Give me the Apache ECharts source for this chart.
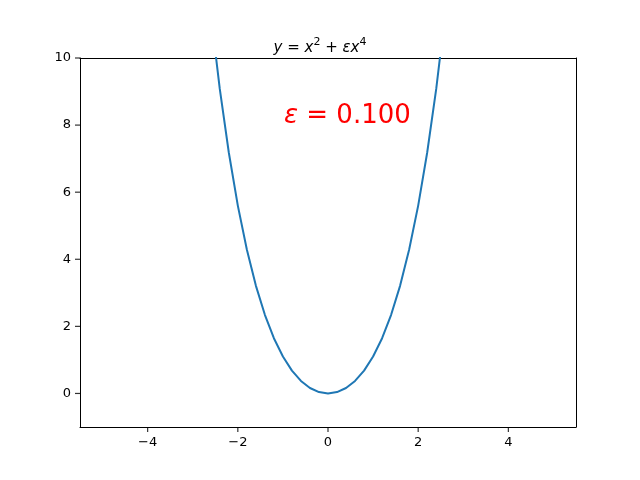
<!DOCTYPE html>
<html>
<head>
<meta charset="utf-8">
<script src="https://cdn.jsdelivr.net/npm/echarts@6/dist/echarts.min.js"></script>
<style>
  html, body { margin: 0; padding: 0; background: #fff; }
  #chart { width: 640px; height: 480px; }
</style>
</head>
<body>
<div id="chart"></div>
<script>
// curve samples (step 0.2)
var xs = [-3.0, -2.8, -2.6, -2.4, -2.2, -2.0, -1.8, -1.6, -1.4, -1.2, -1.0, -0.8, -0.6, -0.4, -0.2,
          0.0, 0.2, 0.4, 0.6, 0.8, 1.0, 1.2, 1.4, 1.6, 1.8, 2.0, 2.2, 2.4, 2.6, 2.8, 3.0];
var ys = [17.1, 13.987, 11.33, 9.078, 7.183, 5.6, 4.29, 3.215, 2.344, 1.647, 1.1, 0.681, 0.373, 0.163, 0.04,
          0.0, 0.04, 0.163, 0.373, 0.681, 1.1, 1.647, 2.344, 3.215, 4.29, 5.6, 7.183, 9.078, 11.33, 13.987, 17.1];
var xTicks = [-4, -2, 0, 2, 4];
var yTicks = [0, 2, 4, 6, 8, 10];
var xMin = -5.5, xMax = 5.5, yMin = -1, yMax = 10;
var epsLabel = '0.100';

var points = xs.map(function (x, i) { return [x, ys[i]]; });
// tick marks sit on the bottom / left edges of the frame
var xTickMarks = xTicks.map(function (v) { return [v, yMin]; });
var yTickMarks = yTicks.map(function (v) { return [xMin, v]; });

var myChart = echarts.init(document.getElementById('chart'));
var font = 'DejaVu Sans';
var minus = function (v) { return String(v).replace('-', '\u2212'); };
var frame = { color: '#000', width: 1 };

function edgeAxis(pos, min, max) {
    return {
        type: 'value', position: pos, min: min, max: max,
        axisLine: { show: true, onZero: false, lineStyle: frame },
        splitLine: { show: false },
        axisTick: { show: false },
        axisLabel: { show: false }
    };
}

var option = {
    animation: false,
    title: {
        text: '{i|y} = {i|x}{s|2} + {i|εx}{s|4}',
        left: 'center',
        top: 32,
        padding: [5, 5, 5, 21],
        textStyle: {
            fontFamily: font,
            fontSize: 15,
            fontWeight: 'normal',
            color: '#000',
            rich: {
                i: { fontFamily: font, fontStyle: 'italic', fontSize: 15, color: '#000' },
                s: { fontFamily: font, fontSize: 11, verticalAlign: 'top', padding: [0, 0, 11, 0], color: '#000' }
            }
        }
    },
    grid: { left: 80, right: 64, top: 58, bottom: 53 },
    xAxis: [{
        type: 'value',
        position: 'bottom',
        min: xMin,
        max: xMax,
        axisLine: { show: true, onZero: false, lineStyle: frame },
        splitLine: { show: false },
        axisTick: { show: false },
        axisLabel: { customValues: xTicks, color: '#000', fontFamily: font, fontSize: 13, margin: 9, formatter: minus }
    }, edgeAxis('top', xMin, xMax)],
    yAxis: [{
        type: 'value',
        position: 'left',
        min: yMin,
        max: yMax,
        axisLine: { show: true, onZero: false, lineStyle: frame },
        splitLine: { show: false },
        axisTick: { show: false },
        axisLabel: { customValues: yTicks, color: '#000', fontFamily: font, fontSize: 13, margin: 9, formatter: minus }
    }, edgeAxis('right', yMin, yMax)],
    graphic: [{
        type: 'text',
        left: 284,
        top: 103,
        z: 100,
        style: {
            text: '{i|ε} = ' + epsLabel,
            fill: '#ff0000',
            fontFamily: font,
            fontSize: 26,
            rich: {
                i: { fontFamily: font, fontStyle: 'italic', fontSize: 26, fill: '#ff0000' }
            }
        }
    }],
    series: [{
        type: 'line',
        data: points,
        showSymbol: false,
        clip: true,
        lineStyle: { color: '#1f77b4', width: 2 },
        itemStyle: { color: '#1f77b4' }
    }, {
        type: 'scatter',
        data: xTickMarks,
        symbol: 'rect',
        symbolSize: [1.2, 5],
        symbolOffset: [0, 2.5],
        clip: false,
        silent: true,
        z: 10,
        itemStyle: { color: '#000' }
    }, {
        type: 'scatter',
        data: yTickMarks,
        symbol: 'rect',
        symbolSize: [5, 1.2],
        symbolOffset: [-2.5, 0],
        clip: false,
        silent: true,
        z: 10,
        itemStyle: { color: '#000' }
    }]
};
myChart.setOption(option);
</script>
</body>
</html>
